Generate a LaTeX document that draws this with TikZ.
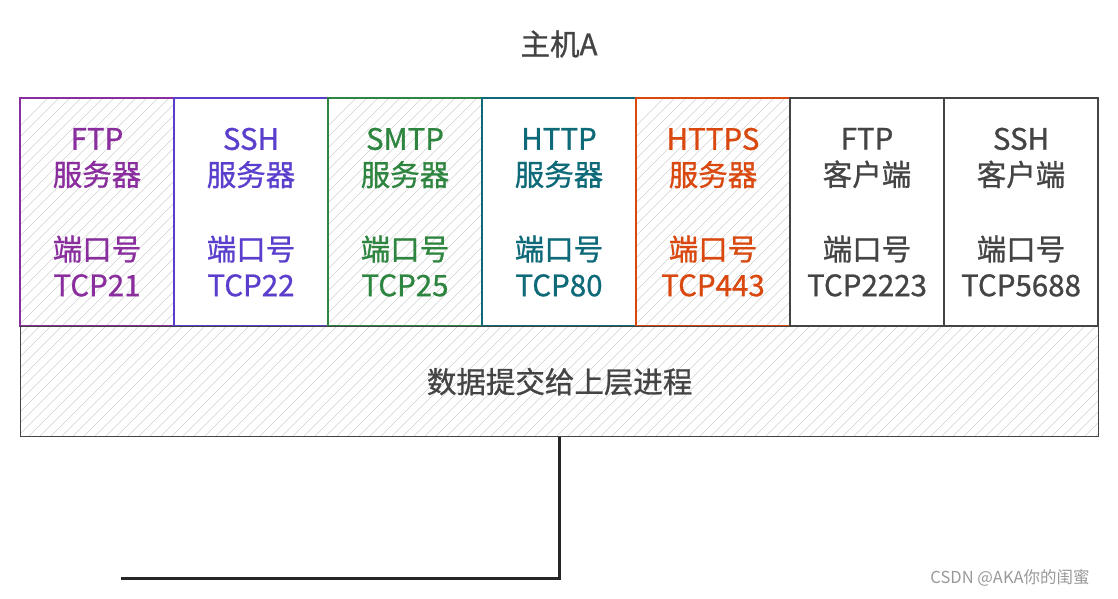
\documentclass[tikz,border=0pt]{standalone}
\usepackage{fontspec}
\setmainfont{Noto Sans CJK SC}
\newfontfamily\medfont[FakeBold=0.9]{Noto Sans CJK SC}
\begin{document}
\begin{tikzpicture}[x=1pt,y=-1pt,
  lbl/.style={font=\medfont\fontsize{29.5}{36}\selectfont, align=center, inner sep=0},
  box/.style={draw, line width=1.3pt},
  hatch/.style={draw=gray!35, line width=0.5pt}]
\useasboundingbox (0,0) rectangle (1118,598);
\definecolor{cA}{HTML}{8A2E9E}
\definecolor{cB}{HTML}{5B3FCC}
\definecolor{cC}{HTML}{2E8540}
\definecolor{cD}{HTML}{0E6A78}
\definecolor{cE}{HTML}{D9480F}
\definecolor{cF}{HTML}{444444}
\node[lbl, text=cF] (title) at (559,44) {主机A};
% hatching
\foreach \xa/\xb/\ya/\yb in {20/174/98/326, 328/482/98/326, 636/790/98/326, 20/1098/326/436}{
  \begin{scope}
  \clip (\xa,\ya) rectangle (\xb,\yb);
  \foreach \k in {0,11,...,1400}{
    \draw[hatch] (\xa+\k-200,\yb) -- (\xa+\k-200+\yb-\ya,\ya);
  }
  \end{scope}
}
\foreach \i/\c/\a/\b/\p in {0/cA/FTP/服务器/TCP21, 1/cB/SSH/服务器/TCP22, 2/cC/SMTP/服务器/TCP25, 3/cD/HTTP/服务器/TCP80, 4/cE/HTTPS/服务器/TCP443, 5/cF/FTP/客户端/TCP2223, 6/cF/SSH/客户端/TCP5688}{
  \draw[box, draw=\c] (20+154*\i,98) rectangle (174+154*\i,326);
  \node[lbl, text=\c] (s\i) at (97+154*\i,158) {\a\\\b};
  \node[lbl, text=\c] (p\i) at (97+154*\i,266) {端口号\\\p};
}
\node[box, draw=cF, minimum width=1078pt, minimum height=110pt, anchor=north west, inner sep=0] (bottom) at (20,326) {};
\node[lbl, text=cF] (btxt) at (bottom.center) {数据提交给上层进程};
\coordinate (e) at (121,578);
\draw[line width=3pt, color=black!85] (bottom.south) |- (e);
\node[font=\fontsize{16.5}{18}\selectfont, text=gray!80, inner sep=0] (wm) at (1010,578) {CSDN @AKA你的闺蜜};
\end{tikzpicture}
\end{document}
